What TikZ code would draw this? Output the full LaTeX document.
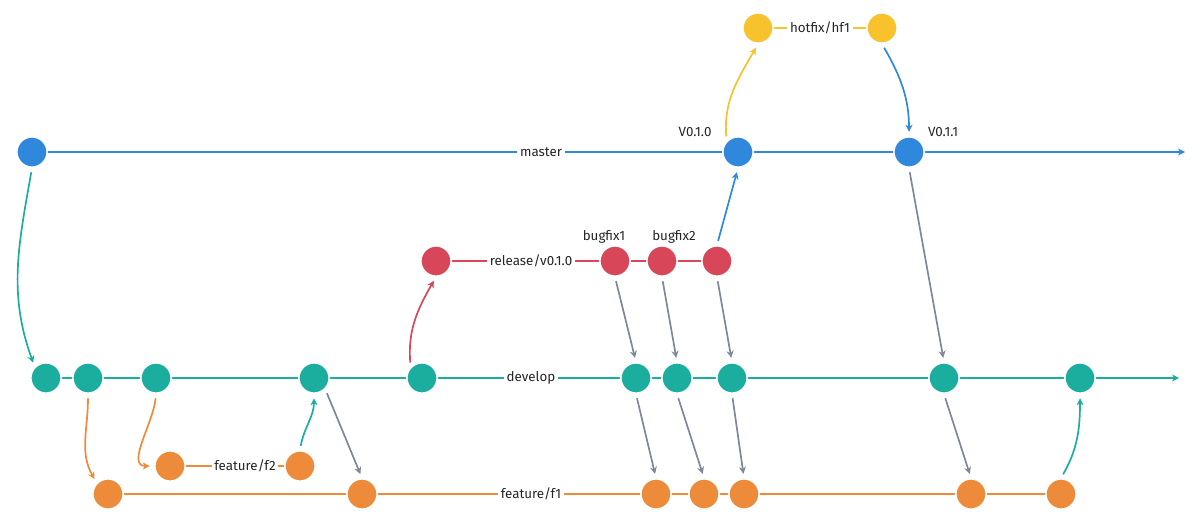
\documentclass[tikz,border=0pt]{standalone}
\usepackage{fontspec}
\setmainfont{Fira Sans}
\usetikzlibrary{arrows.meta}
\definecolor{cblue}{HTML}{2F88DC}
\definecolor{cyel}{HTML}{F8C22C}
\definecolor{cred}{HTML}{D8465A}
\definecolor{cteal}{HTML}{1BAE9E}
\definecolor{corg}{HTML}{EE8B3A}
\definecolor{cgray}{HTML}{7D8898}
\begin{document}
\begin{tikzpicture}[x=0.025cm,y=-0.025cm,
  c/.style={circle,fill=#1,draw=white,line width=1.2pt,minimum size=0.76cm,inner sep=0pt},
  lbl/.style={fill=white,inner sep=2pt,font=\fontsize{9.5}{11}\selectfont,text=black!85},
  tlbl/.style={inner sep=0pt,font=\fontsize{9.5}{11}\selectfont,text=black!85},
  ln/.style={line width=1.3pt,draw=#1},
  ar/.style={line width=1.2pt,draw=#1,-{Stealth[length=5pt,width=5pt]},shorten >=3pt,shorten <=3pt}]
\useasboundingbox (0,0) rectangle (1200,522);
% lines
\coordinate (mend) at (1185,152);
\coordinate (dend) at (1179,378);
\draw[ln=cblue,-{Stealth[length=5pt,width=5pt]}] (32,152) -- (mend);
\draw[ln=cteal,-{Stealth[length=5pt,width=5pt]}] (46,378) -- (dend);
\draw[ln=cyel] (758,28) -- (882,28);
\draw[ln=cred] (436,261) -- (717,261);
\draw[ln=corg] (170,466) -- (300,466);
\draw[ln=corg] (108,494) -- (1061,494);
% labels
\node[lbl] at (541,152) {master};
\node[lbl] at (820,28) {hotfix/hf1};
\node[lbl] at (531,261) {release/v0.1.0};
\node[lbl] at (531,378) {develop};
\node[lbl] at (245,466) {feature/f2};
\node[lbl] at (531,494) {feature/f1};
\node[tlbl] at (604,237) {bugfix1};
\node[tlbl] at (674,237) {bugfix2};
\node[tlbl] at (695,132) {V0.1.0};
\node[tlbl] at (943,132) {V0.1.1};
% nodes
\node[c=cblue] (m0) at (32,152) {};
\node[c=cblue] (m1) at (738,152) {};
\node[c=cblue] (m2) at (909,152) {};
\node[c=cyel] (h0) at (758,28) {};
\node[c=cyel] (h1) at (882,28) {};
\node[c=cred] (r0) at (436,261) {};
\node[c=cred] (r1) at (615,261) {};
\node[c=cred] (r2) at (662,261) {};
\node[c=cred] (r3) at (717,261) {};
\foreach \n/\x in {d1/46,d2/88,d3/156,d4/314,d5/422,d6/636,d7/677,d8/732,d9/944,d10/1080}
  \node[c=cteal] (\n) at (\x,378) {};
\node[c=corg] (f2a) at (170,466) {};
\node[c=corg] (f2b) at (300,466) {};
\foreach \n/\x in {f1/108,f2/362,f3/656,f4/704,f5/744,f6/971,f7/1061}
  \node[c=corg] (\n) at (\x,494) {};
% connectors
\draw[ar=cteal] (m0.south) to[out=-100,in=110] (d1.north west);
\draw[ar=corg] (d2.south) to[out=-90,in=120] (f1.north west);
\draw[ar=corg] (d3.south) to[out=-95,in=180] (f2a.west);
\draw[ar=cteal] (f2b.north) to[out=80,in=-90] (d4.south);
\draw[ar=cgray] (d4.south east) -- (f2.north);
\draw[ar=cred] (d5.north west) to[out=95,in=-120] (r0.south);
\draw[ar=cgray] (r1.south) -- (d6.north);
\draw[ar=cgray] (r2.south) -- (d7.north);
\draw[ar=cgray] (r3.south) -- (d8.north);
\draw[ar=cblue] (r3.north) -- (m1.south);
\draw[ar=cyel] (m1.north west) to[out=95,in=-120] (h0.south);
\draw[ar=cblue] (h1.south) to[out=-60,in=90] (m2.north);
\draw[ar=cgray] (m2.south) -- (d9.north);
\draw[ar=cgray] (d6.south) -- (f3.north);
\draw[ar=cgray] (d7.south) -- (f4.north);
\draw[ar=cgray] (d8.south) -- (f5.north);
\draw[ar=cgray] (d9.south) -- (f6.north);
\draw[ar=cteal] (f7.north) to[out=60,in=-90] (d10.south);
\end{tikzpicture}
\end{document}
